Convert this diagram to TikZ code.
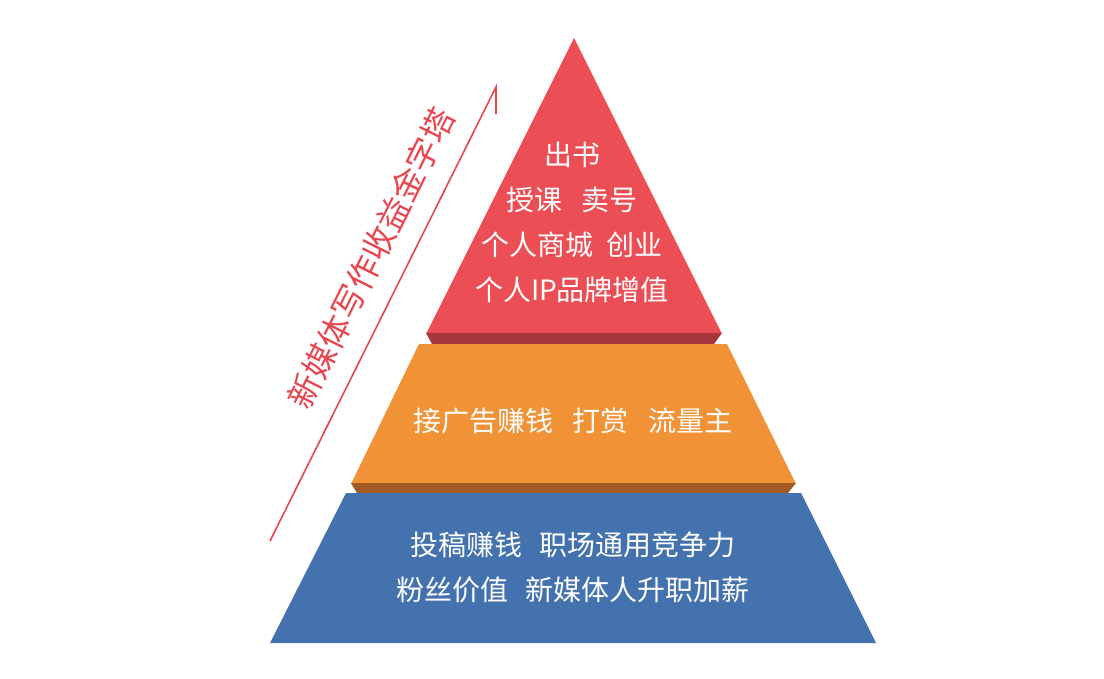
\documentclass[tikz,border=0pt]{standalone}
\usepackage{fontspec}
\setmainfont{Noto Sans CJK SC}
\definecolor{cred}{HTML}{EB4E55}
\definecolor{cdred}{HTML}{A5363C}
\definecolor{corange}{HTML}{F09235}
\definecolor{cdorange}{HTML}{A15B22}
\definecolor{cblue}{HTML}{4472AE}
\definecolor{cline}{HTML}{E8464F}
\begin{document}
\begin{tikzpicture}[x=1pt,y=-1pt,
  lbl/.style={text=white,font=\fontsize{28}{45}\selectfont,align=center,inner sep=0}]
\useasboundingbox (0,0) rectangle (1104,678);
\fill[cred] (574,38) -- (426,334) -- (722,334) -- cycle;
\fill[cdred] (426,333) -- (722,333) -- (714,344) -- (432,344) -- cycle;
\fill[corange] (419,344) -- (727,344) -- (796,484) -- (351,484) -- cycle;
\fill[cdorange] (351,483) -- (796,483) -- (788,493) -- (357,493) -- cycle;
\fill[cblue] (346,493) -- (801,493) -- (876,643) -- (270,643) -- cycle;
\node[lbl] (top) at (572,222) {出书\\授课\hspace{0.7em}卖号\\个人商城\hspace{0.5em}创业\\个人IP品牌增值};
\node[lbl] (mid) at (573,421) {接广告赚钱\hspace{0.7em}打赏\hspace{0.7em}流量主};
\node[lbl] (bot) at (573,567) {投稿赚钱\hspace{0.6em}职场通用竞争力\\粉丝价值\hspace{0.6em}新媒体人升职加薪};
\coordinate (a) at (270,541);
\coordinate (b) at (496,87);
\coordinate (c) at (496,114);
\draw[cline,line width=1.6pt] (a) -- (b) -- (c);
\node[text=cline,font=\fontsize{33}{36}\selectfont,rotate=63.5,inner sep=0] (title) at (371,258) {新媒体写作收益金字塔};
\end{tikzpicture}
\end{document}
